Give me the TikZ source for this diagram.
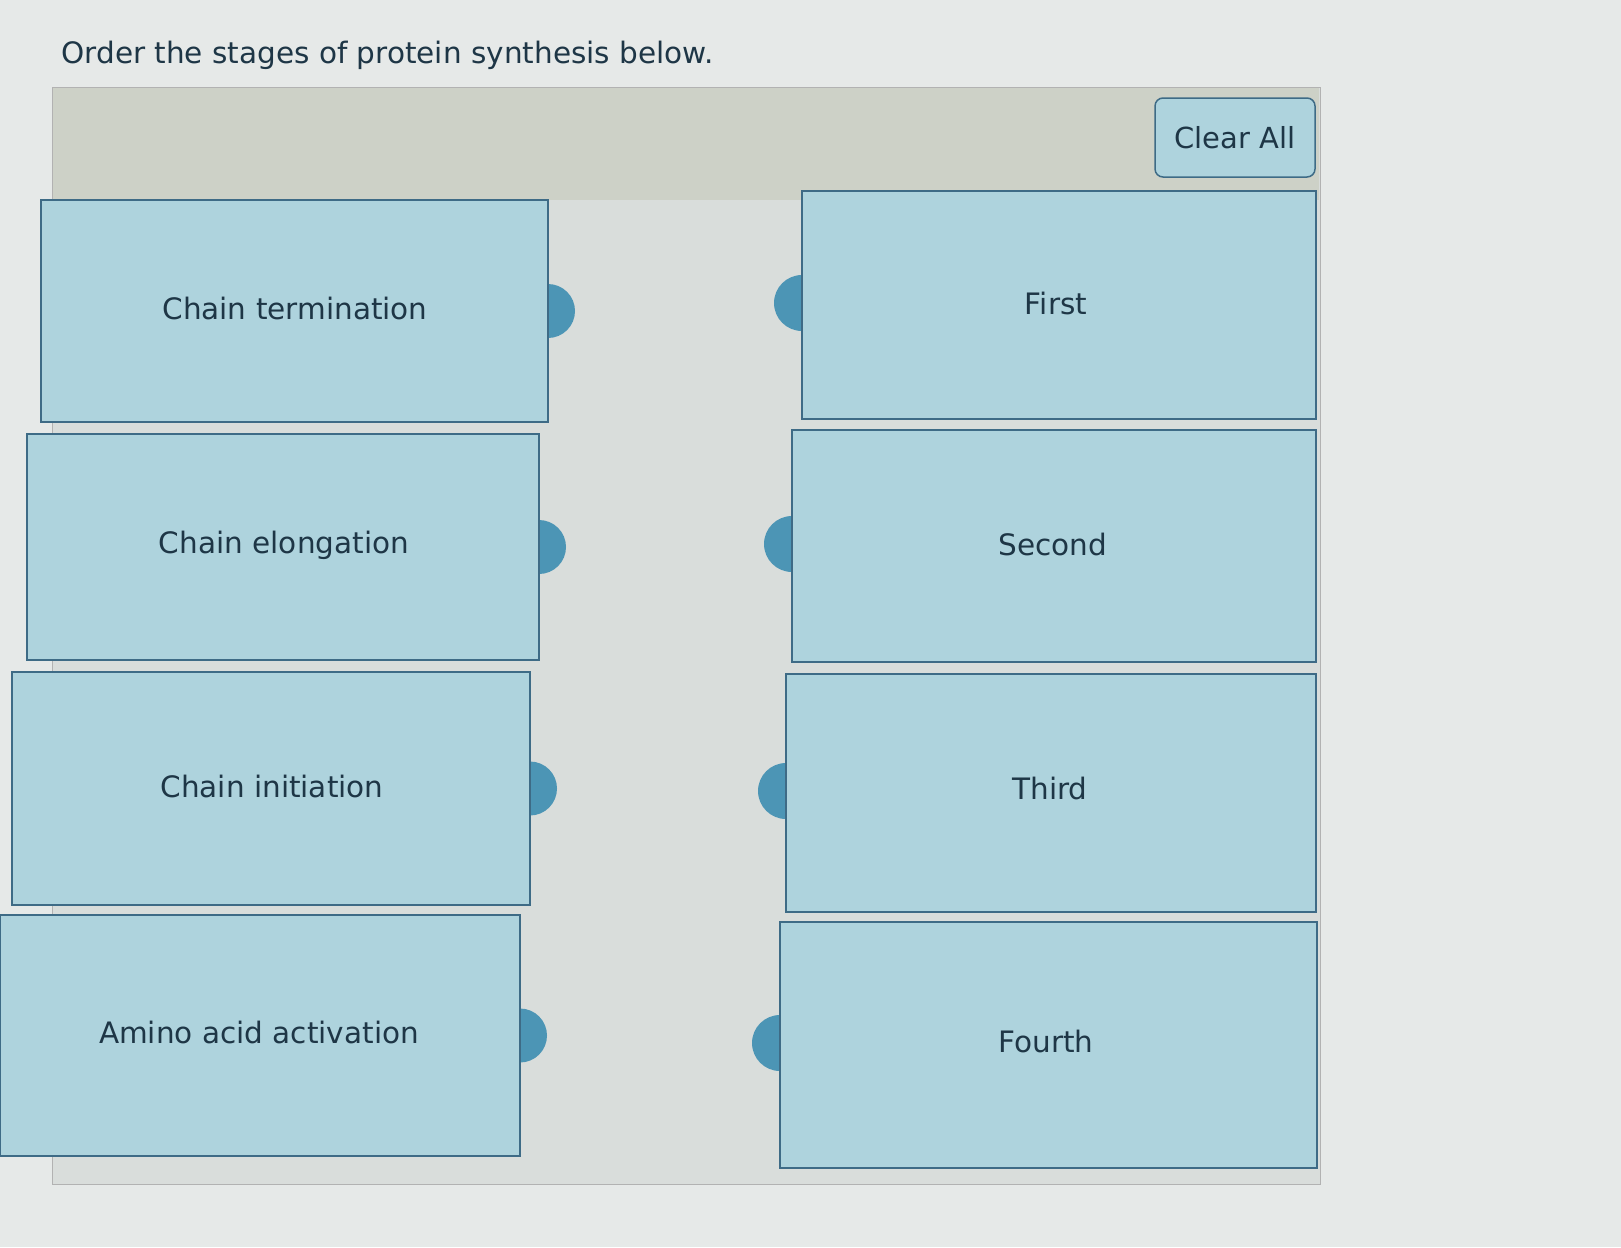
\documentclass[tikz,border=0pt]{standalone}
\usepackage{fontspec}
\setmainfont{DejaVu Sans}
\begin{document}
\begin{tikzpicture}[x=1pt,y=-1pt,
  card/.style={draw=boxline,fill=boxfill,line width=1.5pt},
  tab/.style={fill=tabfill},
  lbl/.style={text=txt,font=\fontsize{29.5}{34}\selectfont}]
\definecolor{bg}{HTML}{E6E9E8}
\definecolor{band}{HTML}{CDD1C7}
\definecolor{panel}{HTML}{D9DDDB}
\definecolor{boxfill}{HTML}{AED3DD}
\definecolor{boxline}{HTML}{3E6B86}
\definecolor{tabfill}{HTML}{4C95B5}
\definecolor{txt}{HTML}{1E3646}
\useasboundingbox[fill=bg] (0,0) rectangle (1621,1247);
\fill[panel,draw=gray!60] (52,87) rectangle (1320,1184);
\fill[band] (53,88) rectangle (1319,200);
\node[anchor=west,text=txt,font=\fontsize{29.5}{34}\selectfont] (title) at (58,55) {Order the stages of protein synthesis below.};
\node[draw=boxline,fill=boxfill,line width=1.5pt,rounded corners=8pt,minimum width=160pt,minimum height=79pt,text=txt,font=\fontsize{29}{34}\selectfont] (clear) at (1235,137.5) {Clear All};
\foreach \n/\xa/\ya/\xb/\yb in {l1/41/200/548/422, l2/27/434/539/660, l3/12/672/530/905, l4/0/915/520/1156}{
  \fill[tab] (\xb,{(\ya+\yb)/2-27}) arc[start angle=-90,end angle=90,radius=27] -- cycle;
  \draw[card] (\xa,\ya) rectangle (\xb,\yb);
}
\foreach \n/\xa/\ya/\xb/\yb in {r1/802/191/1316/419, r2/792/430/1316/662, r3/786/674/1316/912, r4/780/922/1317/1168}{
  \fill[tab] (\xa,{(\ya+\yb)/2-30}) arc[start angle=-90,end angle=-270,radius=28] -- cycle;
  \draw[card] (\xa,\ya) rectangle (\xb,\yb);
}
\node[lbl] (a1) at (295,308) {Chain termination};
\node[lbl] (a2) at (284,545) {Chain elongation};
\node[lbl] (a3) at (272,786) {Chain initiation};
\node[lbl] (a4) at (259,1032) {Amino acid activation};
\node[lbl] (b1) at (1056,303) {First};
\node[lbl] (b2) at (1053,544) {Second};
\node[lbl] (b3) at (1050,788) {Third};
\node[lbl] (b4) at (1046,1041) {Fourth};
\end{tikzpicture}
\end{document}
